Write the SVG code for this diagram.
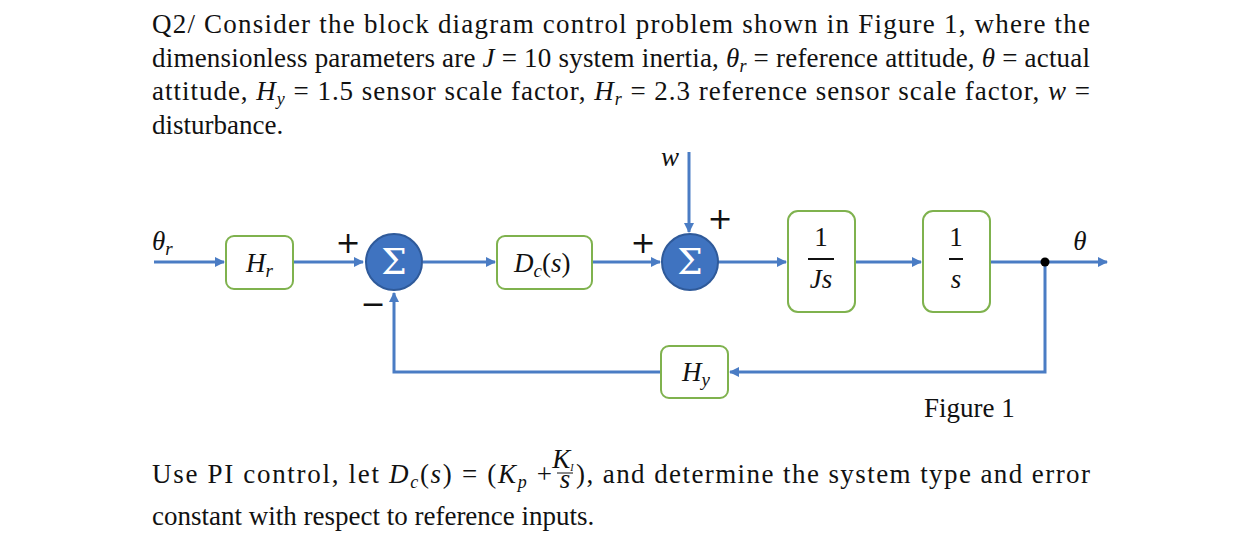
<svg xmlns="http://www.w3.org/2000/svg" width="1242" height="557" viewBox="0 0 1242 557">
<style>
.t{font-family:"Liberation Serif",serif;font-size:27px;fill:#111}
.m{font-family:"Liberation Serif",serif;font-size:27px;font-style:italic;fill:#111}
.n{font-family:"Liberation Serif",serif;font-size:27px;fill:#111}
.pm{font-family:"DejaVu Sans",sans-serif;font-size:30px;fill:#111}
.box{fill:#fff;stroke:#7fb24e;stroke-width:2}
.sum{fill:#3f73c0;stroke:#2f5a9a;stroke-width:2}
.ln{stroke:#4a7cc4;stroke-width:3;fill:none}
.sg{font-family:"DejaVu Serif",serif;font-size:36px;fill:#fff}
</style>
<defs><marker id="a" markerWidth="10" markerHeight="10" refX="9" refY="5" orient="auto" markerUnits="userSpaceOnUse"><path d="M0,0 L10,5 L0,10 Z" fill="#4a7cc4"/></marker></defs>
<rect width="1242" height="557" fill="#fff"/>
<text class="t" x="152" y="33" textLength="938" lengthAdjust="spacing">Q2/ Consider the block diagram control problem shown in Figure 1, where the</text>
<text class="t" x="152" y="67" textLength="938" lengthAdjust="spacing">dimensionless parameters are <tspan font-style="italic">J</tspan> = 10 system inertia, <tspan font-style="italic">θ</tspan><tspan font-style="italic" font-size="18" dy="5">r</tspan><tspan dy="-5"> = reference attitude, </tspan><tspan font-style="italic">θ</tspan> = actual</text>
<text class="t" x="152" y="100" textLength="938" lengthAdjust="spacing">attitude, <tspan font-style="italic">H</tspan><tspan font-style="italic" font-size="18" dy="5">y</tspan><tspan dy="-5">  = 1.5 sensor scale factor, </tspan><tspan font-style="italic">H</tspan><tspan font-style="italic" font-size="18" dy="5">r</tspan><tspan dy="-5">  = 2.3 reference sensor scale factor, </tspan><tspan font-style="italic">w</tspan> =</text>
<text class="t" x="152" y="134">disturbance.</text>
<g id="connectors">
<path class="ln" d="M154,262 H224" marker-end="url(#a)"/>
<path class="ln" d="M293,262 H363" marker-end="url(#a)"/>
<path class="ln" d="M423,262 H495" marker-end="url(#a)"/>
<path class="ln" d="M592,262 H660" marker-end="url(#a)"/>
<path class="ln" d="M689,152 V232" marker-end="url(#a)"/>
<path class="ln" d="M718,262 H786" marker-end="url(#a)"/>
<path class="ln" d="M855,262 H921" marker-end="url(#a)"/>
<path class="ln" d="M990,262 H1107" marker-end="url(#a)"/>
<path class="ln" d="M1045,262 V372 H730" marker-end="url(#a)"/>
<path class="ln" d="M661,372 H394 V293" marker-end="url(#a)"/>
<circle cx="1045" cy="262" r="4.5" fill="#000"/>
</g>
<text class="m" x="152" y="250">θ<tspan font-size="19" dy="5">r</tspan></text>
<g id="Hr"><rect class="box" x="226" y="236" width="67" height="53" rx="8"/><text class="m" x="246" y="272">H<tspan font-size="19" dy="5">r</tspan></text></g>
<g id="sum1"><circle class="sum" cx="394" cy="262" r="28"/><text class="sg" x="394" y="274" text-anchor="middle">Σ</text></g>
<text class="pm" x="348" y="253" text-anchor="middle">+</text>
<text class="pm" x="373" y="314" text-anchor="middle">−</text>
<g id="Dc"><rect class="box" x="497" y="236" width="95" height="53" rx="8"/><text class="m" x="514" y="272">D<tspan font-size="19" dy="5">c</tspan><tspan dy="-5" font-style="normal">(</tspan>s<tspan font-style="normal">)</tspan></text></g>
<g id="sum2"><circle class="sum" cx="690" cy="262" r="28"/><text class="sg" x="690" y="274" text-anchor="middle">Σ</text></g>
<text class="m" x="670" y="166" text-anchor="middle">w</text>
<text class="pm" x="643" y="253" text-anchor="middle">+</text>
<text class="pm" x="720" y="229" text-anchor="middle">+</text>
<g id="Js"><rect class="box" x="788" y="211" width="67" height="101" rx="10"/><text class="n" x="821" y="246" text-anchor="middle">1</text><line x1="808" y1="259" x2="834" y2="259" stroke="#111" stroke-width="2"/><text class="m" x="821" y="288" text-anchor="middle">Js</text></g>
<g id="s"><rect class="box" x="923" y="211" width="67" height="101" rx="10"/><text class="n" x="956" y="246" text-anchor="middle">1</text><line x1="949" y1="259" x2="963" y2="259" stroke="#111" stroke-width="2"/><text class="m" x="956" y="288" text-anchor="middle">s</text></g>
<text class="m" x="1080" y="250" text-anchor="middle">θ</text>
<g id="Hy"><rect class="box" x="661" y="346" width="67" height="52" rx="8"/><text class="m" x="682" y="381">H<tspan font-size="19" dy="5">y</tspan></text></g>
<text class="t" x="924" y="417" font-size="22">Figure 1</text>
<text class="t" x="152" y="483" textLength="400" lengthAdjust="spacing">Use PI control, let <tspan font-style="italic">D</tspan><tspan font-style="italic" font-size="18" dy="5">c</tspan><tspan dy="-5">(</tspan><tspan font-style="italic">s</tspan>) = (<tspan font-style="italic">K</tspan><tspan font-style="italic" font-size="18" dy="5">p</tspan><tspan dy="-5"> +</tspan></text>
<text class="m" x="563" y="468" font-size="14" text-anchor="middle">K<tspan font-size="10" dy="3">I</tspan></text>
<line x1="557" y1="473" x2="573" y2="473" stroke="#111" stroke-width="1"/>
<text class="m" x="565" y="488" font-size="14" text-anchor="middle">s</text>
<text class="t" x="576" y="483" textLength="514" lengthAdjust="spacing">), and determine the system type and error</text>
<text class="t" x="152" y="525">constant with respect to reference inputs.</text>
</svg>
